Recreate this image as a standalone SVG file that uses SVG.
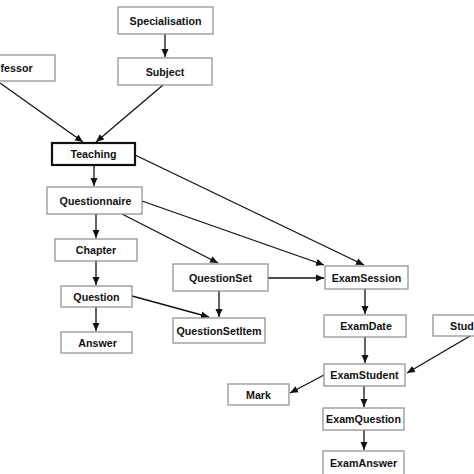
<svg xmlns="http://www.w3.org/2000/svg" width="474" height="474" viewBox="0 0 474 474">
<style>
.box{fill:#fff;stroke:#8a8a8a;stroke-width:1.2}
.thick{fill:#fff;stroke:#111;stroke-width:2.2}
.lbl{font-family:"Liberation Sans",Arial,sans-serif;font-weight:bold;font-size:10.7px;fill:#111;text-anchor:middle}
.st{text-anchor:start}
.c{fill:none;stroke:#111;stroke-width:1.3;marker-end:url(#ah)}
</style>
<defs>
<marker id="ah" markerUnits="userSpaceOnUse" markerWidth="9" markerHeight="8" refX="8" refY="4" orient="auto">
<path d="M0,0.5 L8,4 L0,7.5 z" fill="#111"/>
</marker>
</defs>
<rect width="474" height="474" fill="#fff"/>
<g id="connectors">
<line class="c" x1="165" y1="34" x2="165" y2="57"/>
<line class="c" x1="0" y1="83" x2="83" y2="142"/>
<line class="c" x1="163" y1="85" x2="96" y2="142"/>
<line class="c" x1="94" y1="165" x2="94" y2="186"/>
<line class="c" x1="135" y1="155" x2="364" y2="265"/>
<line class="c" x1="142" y1="201" x2="324" y2="265"/>
<line class="c" x1="122" y1="214" x2="218" y2="263"/>
<line class="c" x1="96" y1="214" x2="96" y2="238"/>
<line class="c" x1="96" y1="261" x2="96" y2="285"/>
<line class="c" x1="96" y1="307" x2="96" y2="331"/>
<line class="c" x1="132" y1="296" x2="209" y2="317"/>
<line class="c" x1="219" y1="291" x2="219" y2="317"/>
<line class="c" x1="268" y1="278" x2="324" y2="278"/>
<line class="c" x1="365" y1="289" x2="365" y2="314"/>
<line class="c" x1="365" y1="337" x2="365" y2="363"/>
<line class="c" x1="470" y1="336" x2="407" y2="373"/>
<line class="c" x1="324" y1="375" x2="290" y2="393"/>
<line class="c" x1="364" y1="386" x2="364" y2="407"/>
<line class="c" x1="364" y1="430" x2="364" y2="450"/>
</g>
<g id="specialisation"><rect class="box" x="118" y="7" width="95" height="27"/><text class="lbl" x="165.5" y="24.5">Specialisation</text></g>
<g id="subject"><rect class="box" x="118" y="58" width="94" height="27"/><text class="lbl" x="165" y="75.5">Subject</text></g>
<g id="professor"><rect class="box" x="-43" y="55" width="98" height="26"/><text class="lbl st" x="0.5" y="72">fessor</text></g>
<g id="teaching"><rect class="thick" x="52" y="143" width="83" height="22"/><text class="lbl" x="93.5" y="158">Teaching</text></g>
<g id="questionnaire"><rect class="box" x="47" y="187" width="95" height="27"/><text class="lbl" x="95.5" y="204.5">Questionnaire</text></g>
<g id="chapter"><rect class="box" x="55" y="239" width="82" height="22"/><text class="lbl" x="96" y="254">Chapter</text></g>
<g id="question"><rect class="box" x="61" y="286" width="71" height="21"/><text class="lbl" x="96.5" y="300.5">Question</text></g>
<g id="answer"><rect class="box" x="61" y="332" width="71" height="21"/><text class="lbl" x="97.5" y="346.5">Answer</text></g>
<g id="questionset"><rect class="box" x="173" y="264" width="95" height="27"/><text class="lbl" x="220.5" y="281.5">QuestionSet</text></g>
<g id="questionsetitem"><rect class="box" x="173" y="318" width="92" height="25"/><text class="lbl" x="219" y="334.5">QuestionSetItem</text></g>
<g id="examsession"><rect class="box" x="325" y="266" width="83" height="23"/><text class="lbl" x="366.5" y="281.5">ExamSession</text></g>
<g id="examdate"><rect class="box" x="324" y="315" width="82" height="22"/><text class="lbl" x="366" y="330">ExamDate</text></g>
<g id="student"><rect class="box" x="433" y="315" width="78" height="21"/><text class="lbl st" x="450" y="329.5">Stud</text></g>
<g id="examstudent"><rect class="box" x="324" y="364" width="81" height="22"/><text class="lbl" x="364.5" y="379">ExamStudent</text></g>
<g id="mark"><rect class="box" x="228" y="384" width="61" height="21"/><text class="lbl" x="258.5" y="398.5">Mark</text></g>
<g id="examquestion"><rect class="box" x="323" y="408" width="81" height="22"/><text class="lbl" x="363.5" y="423">ExamQuestion</text></g>
<g id="examanswer"><rect class="box" x="323" y="451" width="81" height="25"/><text class="lbl" x="363.5" y="467">ExamAnswer</text></g>
</svg>
